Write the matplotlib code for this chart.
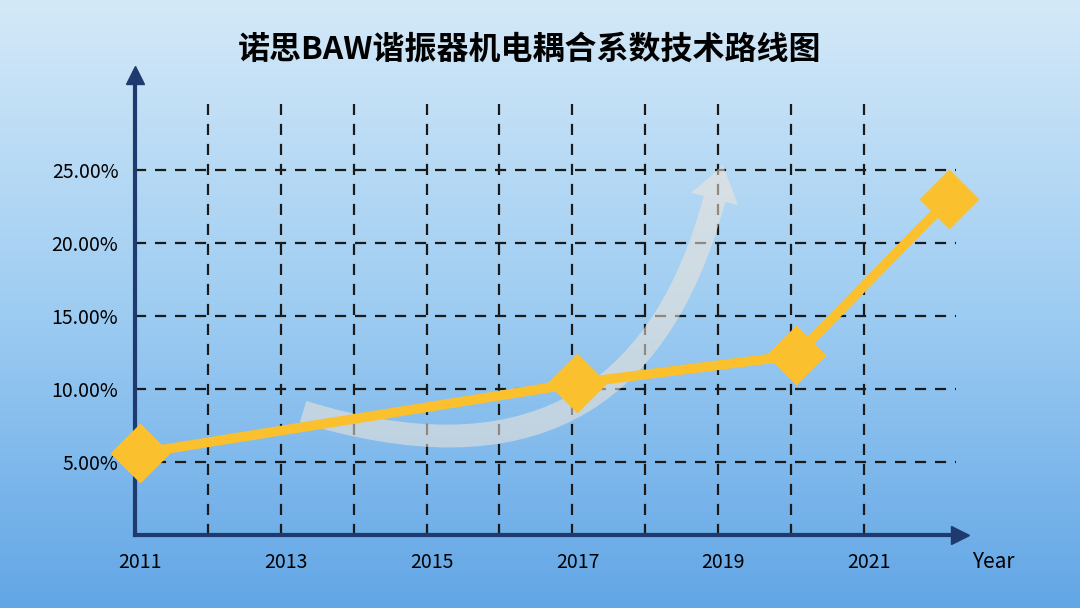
import matplotlib
matplotlib.use("Agg")
import matplotlib.pyplot as plt
import numpy as np
from matplotlib.colors import LinearSegmentedColormap

plt.rcParams['font.family'] = ['Noto Sans CJK SC', 'DejaVu Sans']

years = [2011, 2017, 2020, 2022.1]
values = [5.6, 10.4, 12.3, 23.0]
xtick_years = [2011, 2013, 2015, 2017, 2019, 2021]
ytick_vals = [5, 10, 15, 20, 25]
title = "诺思BAW谐振器机电耦合系数技术路线图"

fig = plt.figure(figsize=(10.8, 6.08), dpi=100)
bg = fig.add_axes([0, 0, 1, 1], zorder=-10)
grad = np.linspace(0, 1, 256).reshape(-1, 1)
cmap = LinearSegmentedColormap.from_list("bg", ["#d4e9f8", "#9fcdf2", "#62a6e6"])
bg.imshow(grad, aspect='auto', cmap=cmap, extent=[0, 1, 0, 1], origin='upper')
bg.axis('off')

ax = fig.add_axes([0.125, 0.12, 0.764, 0.757])
ax.patch.set_alpha(0)
x0, x1 = 2010.93, 2022.25
ax.set_xlim(x0, x1)
ax.set_ylim(0, 31.5)

for y in ytick_vals:
    ax.plot([x0, 2022.2], [y, y], ls=(0, (5, 4)), color='#1a1a1a', lw=1.6, zorder=1)
for yr in range(2012, 2022):
    ax.plot([yr - 0.07, yr - 0.07], [0, 29.5], ls=(0, (5, 4)), color='#1a1a1a', lw=1.6, zorder=1)

ax.annotate("", xy=(2019.0, 25.5), xytext=(2013.2, 8.5),
            arrowprops=dict(arrowstyle="simple,head_length=2.5,head_width=3.5,tail_width=1.6",
                            connectionstyle="arc3,rad=0.55", fc="#f2e6d8", ec="none", alpha=0.55),
            zorder=2)

ax.plot(years, values, color='#fbc02d', lw=7, marker='D', markersize=30,
        markerfacecolor='#fbc02d', markeredgecolor='#fbc02d', zorder=5, clip_on=False)

for s in ['top', 'right']:
    ax.spines[s].set_visible(False)
for s in ['left', 'bottom']:
    ax.spines[s].set_color('#1f3a6e')
    ax.spines[s].set_linewidth(3)
ax.plot(1, 0, ">", transform=ax.transAxes, color='#1f3a6e', markersize=13, clip_on=False)
ax.plot(0, 1, "^", transform=ax.transAxes, color='#1f3a6e', markersize=13, clip_on=False)

ax.set_xticks(xtick_years)
ax.set_xticklabels([str(y) for y in xtick_years], fontsize=14, fontweight='medium')
ax.set_yticks(ytick_vals)
ax.set_yticklabels([f"{v:.2f}%" for v in ytick_vals], fontsize=14, fontweight='medium')
ax.tick_params(length=0, pad=12)
ax.text(1.015, -0.035, "Year", transform=ax.transAxes, fontsize=15, va='top')

fig.text(0.49, 0.918, title, ha='center', va='center', fontsize=23, fontweight='bold')
fig.savefig("out.png", dpi=100)
